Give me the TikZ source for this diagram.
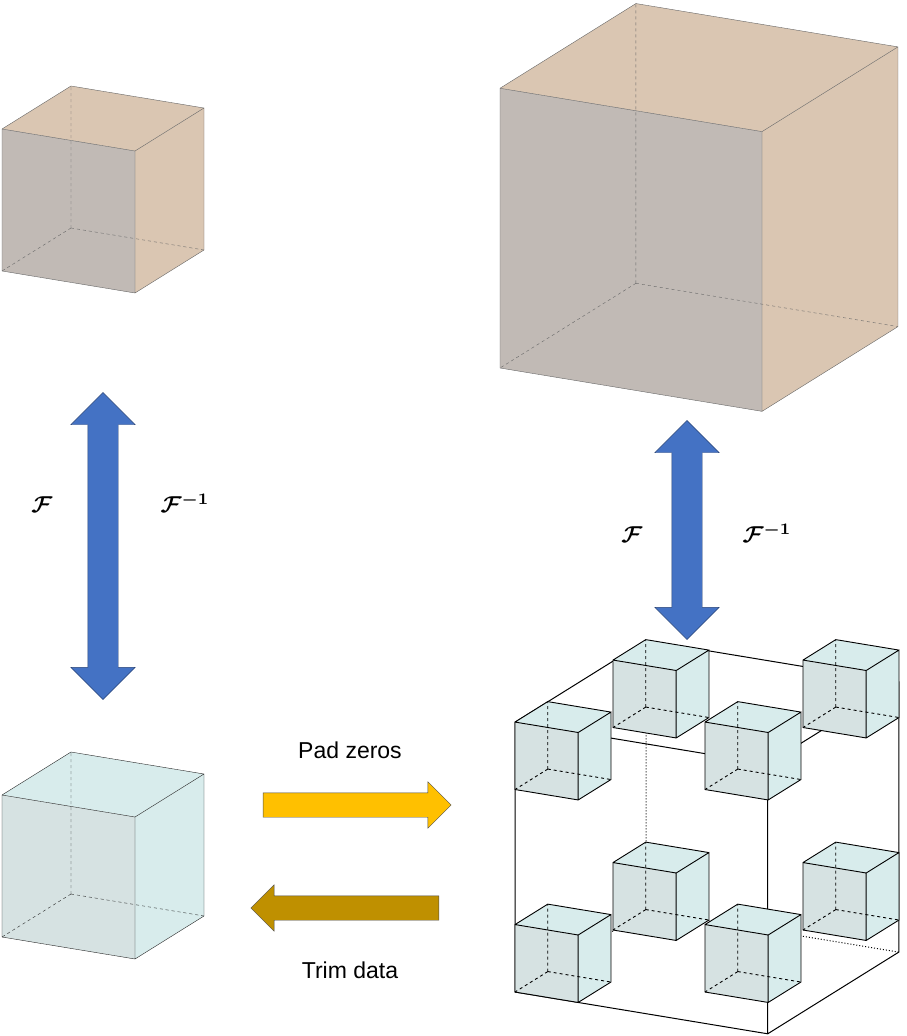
\documentclass[tikz,border=0pt]{standalone}
\usepackage{fontspec}
\usepackage{amsmath}
\setsansfont{Liberation Sans}
\usetikzlibrary{shapes.arrows}
\definecolor{sandfront}{RGB}{193,186,181}
\definecolor{sandside}{RGB}{218,198,178}
\definecolor{icefront}{RGB}{214,226,226}
\definecolor{iceside}{RGB}{216,236,236}
\definecolor{fblue}{RGB}{68,114,196}
\definecolor{padyellow}{RGB}{255,192,0}
\definecolor{trimbrown}{RGB}{191,144,0}
\tikzset{
  fftarrow/.style={double arrow,draw=fblue!60!black,fill=fblue,shape border rotate=90,
    double arrow head extend=17pt,double arrow head indent=0pt,inner sep=15pt},
  padarrow/.style={single arrow,draw=black!70,single arrow head extend=11pt,single arrow head indent=0pt,
    minimum height=188pt,inner sep=12pt},
  ftlabel/.style={scale=2.3},
  oplabel/.style={font=\sffamily\fontsize{23}{23}\selectfont}
}
% cube: x, y (front-left-bottom), scale, front colour, side colour, edge style
\newcommand{\drawcube}[6]{%
  \begin{scope}[shift={(#1,#2)},scale=#3]
    \fill[#5] (133,22) -- (202,-21) -- (202,-163) -- (133,-120) -- cycle;
    \fill[#5] (0,-142) -- (133,-120) -- (202,-163) -- (69,-185) -- cycle;
    \fill[#4] (0,0) -- (133,22) -- (133,-120) -- (0,-142) -- cycle;
    \draw[#6,dashed] (69,-43) -- (0,0) (69,-43) -- (69,-185) (69,-43) -- (202,-21);
    \draw[#6] (0,0) -- (133,22) -- (133,-120) -- (0,-142) -- cycle
      (133,22) -- (202,-21) -- (202,-163) -- (133,-120)
      (0,-142) -- (69,-185) -- (202,-163);
  \end{scope}}
\begin{document}
\begin{tikzpicture}[x=1pt,y=-1pt]
  \useasboundingbox (0,0) rectangle (906,1036);

  % spatial / frequency cubes
  \drawcube{2}{271}{1}{sandfront}{sandside}{black!60}
  \drawcube{500}{368}{1.97}{sandfront}{sandside}{black!60}
  \drawcube{2}{937}{1}{icefront}{iceside}{black!85}

  % padded frame
  \begin{scope}[shift={(515,992)},scale=1.9,line width=1pt]
    \draw[dotted] (69,-43) -- (0,0) (69,-43) -- (69,-185) (69,-43) -- (202,-21);
    \draw (0,0) -- (133,22) -- (133,-120) -- (0,-142) -- cycle
      (133,22) -- (202,-21) -- (202,-163) -- (133,-120)
      (0,-142) -- (69,-185) -- (202,-163);
  \end{scope}
  \foreach \k in {1,0}
    \foreach \j in {0,1}
      \foreach \i in {0,1}
        \drawcube{515+190*\i+98*\k}{992-202.5*\j-62*\k}{0.475}{icefront}{iceside}{black,line width=0.9pt};

  % transforms
  \node[fftarrow,minimum height=307pt] (fl) at (103,546) {};
  \node[fftarrow,minimum height=219pt] (fr) at (687,530) {};
  \node[ftlabel] (Fl) at (42,505) {$\boldsymbol{\mathcal{F}}$};
  \node[ftlabel] (Fil) at (185,503) {$\boldsymbol{\mathcal{F}^{-1}}$};
  \node[ftlabel] (Fr) at (632,535) {$\boldsymbol{\mathcal{F}}$};
  \node[ftlabel] (Fir) at (767,533) {$\boldsymbol{\mathcal{F}^{-1}}$};

  % padding / trimming
  \node[padarrow,fill=padyellow] (pad) at (351,805) {};
  \node[padarrow,fill=trimbrown,shape border rotate=180] (trim) at (351,908) {};
  \node[oplabel] (padtxt) at (350,750) {Pad zeros};
  \node[oplabel] (trimtxt) at (350,970) {Trim data};
\end{tikzpicture}
\end{document}
